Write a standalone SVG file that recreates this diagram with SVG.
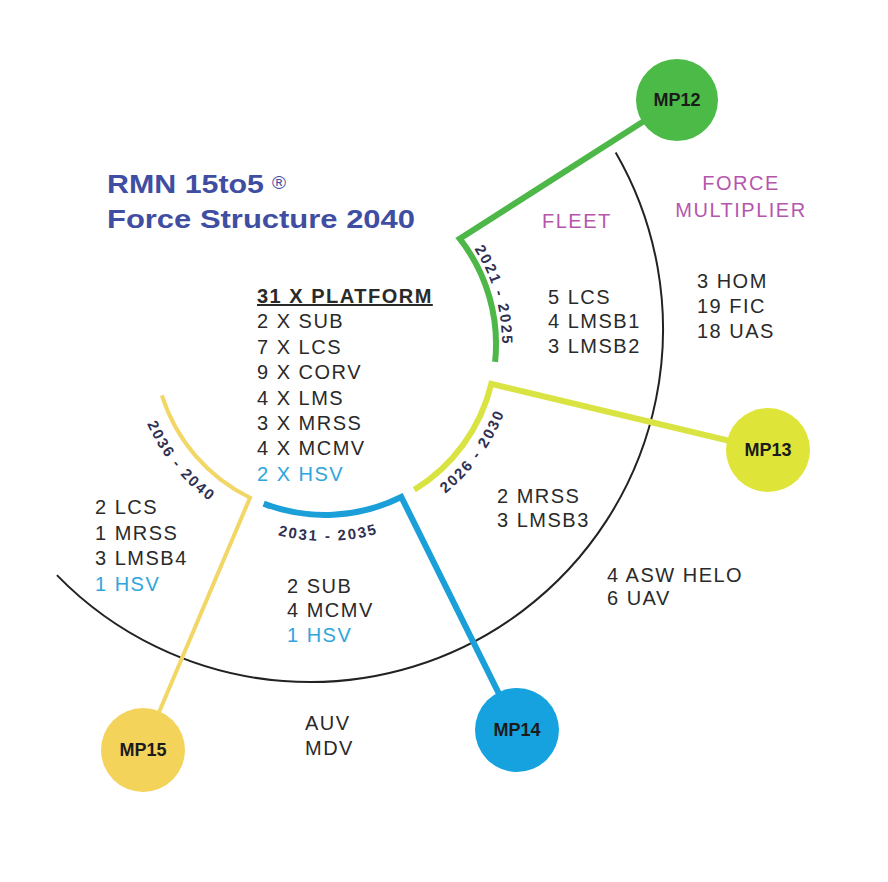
<svg xmlns="http://www.w3.org/2000/svg" width="888" height="882" viewBox="0 0 888 882">
<style>
.t{font-family:"Liberation Sans","DejaVu Sans",Arial,sans-serif;font-size:20px;letter-spacing:1.5px;fill:#2a2a2a}
.b{font-weight:bold}
.hsv{fill:#2ea6dc}
.mag{fill:#b556ad}
.title{font-family:"Liberation Sans","DejaVu Sans",Arial,sans-serif;font-weight:bold;font-size:25px;fill:#3f4ea3}
.yr{font-family:"Liberation Sans","DejaVu Sans",Arial,sans-serif;font-size:15px;font-weight:bold;letter-spacing:2px;fill:#2f3052}
.mp{font-family:"Liberation Sans","DejaVu Sans",Arial,sans-serif;font-weight:bold;font-size:18px;fill:#1b1b1b;text-anchor:middle}
.br{fill:none;stroke-linejoin:miter;stroke-linecap:butt}
</style>
<defs>
<path id="pg" d="M460.6,230.2 A177,177 0 0 1 500.3,368.6"/>
<path id="pyg" d="M415.1,513.5 A192,192 0 0 0 512.8,383.9"/>
<path id="pb" d="M241.7,522.5 A197,197 0 0 0 414.4,519.5"/>
<path id="py" d="M139.5,404.3 A195,195 0 0 0 233.4,516.2"/>
</defs>

<g id="outer-ring">
<path d="M615.7,152.5 A353,353 0 0 1 56.9,575.1" fill="none" stroke="#222" stroke-width="2"/>
</g>

<g id="connectors">
<path class="br" d="M677,100 L459.7,238.7 A171,171 0 0 1 495.1,361.9" stroke="#4db848" stroke-width="6"/>
<path class="br" d="M768,450 L491.3,383.9 A171,171 0 0 1 414.3,489.8" stroke="#d9e442" stroke-width="6"/>
<path class="br" d="M517,730 L401.3,497 A171,171 0 0 1 263.7,503.6" stroke="#1b9fd8" stroke-width="6"/>
<path class="br" d="M143,750 L250,497.7 A171,171 0 0 1 161.9,395.4" stroke="#f2d766" stroke-width="4"/>
</g>

<g id="year-labels">
<text class="yr"><textPath href="#pg" startOffset="50%" text-anchor="middle">2021 - 2025</textPath></text>
<text class="yr"><textPath href="#pyg" startOffset="52%" text-anchor="middle">2026 - 2030</textPath></text>
<text class="yr"><textPath href="#pb" startOffset="50%" text-anchor="middle">2031 - 2035</textPath></text>
<text class="yr"><textPath href="#py" startOffset="48%" text-anchor="middle">2036 - 2040</textPath></text>
</g>

<g id="MP12">
<circle cx="677" cy="100" r="41" fill="#4cba46"/>
<text class="mp" x="677" y="106">MP12</text>
</g>
<g id="MP13">
<circle cx="768" cy="450" r="42" fill="#dfe439"/>
<text class="mp" x="768" y="456">MP13</text>
</g>
<g id="MP14">
<circle cx="517" cy="730" r="42" fill="#16a2de"/>
<text class="mp" x="517" y="736">MP14</text>
</g>
<g id="MP15">
<circle cx="143" cy="750" r="42" fill="#f4d35b"/>
<text class="mp" x="143" y="756">MP15</text>
</g>

<g id="title">
<text class="title" x="107" y="193" textLength="157" lengthAdjust="spacingAndGlyphs">RMN 15to5</text>
<text x="272" y="189" font-family="Liberation Sans, Arial, sans-serif" font-size="19" fill="#3f4ea3">®</text>
<text class="title" x="107" y="228" textLength="308" lengthAdjust="spacingAndGlyphs">Force Structure 2040</text>
</g>

<g id="platform-list">
<text class="t b" x="257" y="303" text-decoration="underline">31 X PLATFORM</text>
<text class="t" x="257" y="328">2 X SUB</text>
<text class="t" x="257" y="354">7 X LCS</text>
<text class="t" x="257" y="379">9 X CORV</text>
<text class="t" x="257" y="405">4 X LMS</text>
<text class="t" x="257" y="430">3 X MRSS</text>
<text class="t" x="257" y="455">4 X MCMV</text>
<text class="t hsv" x="257" y="481">2 X HSV</text>
</g>

<g id="fleet-label">
<text class="t mag" x="542" y="228">FLEET</text>
</g>
<g id="force-multiplier-label">
<text class="t mag" x="741" y="190" text-anchor="middle">FORCE</text>
<text class="t mag" x="741" y="217" text-anchor="middle">MULTIPLIER</text>
</g>

<g id="mp12-fleet">
<text class="t" x="548" y="304">5 LCS</text>
<text class="t" x="548" y="328">4 LMSB1</text>
<text class="t" x="548" y="353">3 LMSB2</text>
</g>
<g id="mp12-fm">
<text class="t" x="697" y="288">3 HOM</text>
<text class="t" x="697" y="313">19 FIC</text>
<text class="t" x="697" y="338">18 UAS</text>
</g>
<g id="mp13-fleet">
<text class="t" x="497" y="503">2 MRSS</text>
<text class="t" x="497" y="527">3 LMSB3</text>
</g>
<g id="mp13-fm">
<text class="t" x="607" y="582">4 ASW HELO</text>
<text class="t" x="607" y="605">6 UAV</text>
</g>
<g id="mp14-fleet">
<text class="t" x="287" y="593">2 SUB</text>
<text class="t" x="287" y="617">4 MCMV</text>
<text class="t hsv" x="287" y="642">1 HSV</text>
</g>
<g id="mp14-fm">
<text class="t" x="305" y="730">AUV</text>
<text class="t" x="305" y="755">MDV</text>
</g>
<g id="mp15-fleet">
<text class="t" x="95" y="514">2 LCS</text>
<text class="t" x="95" y="540">1 MRSS</text>
<text class="t" x="95" y="565">3 LMSB4</text>
<text class="t hsv" x="95" y="591">1 HSV</text>
</g>
</svg>
